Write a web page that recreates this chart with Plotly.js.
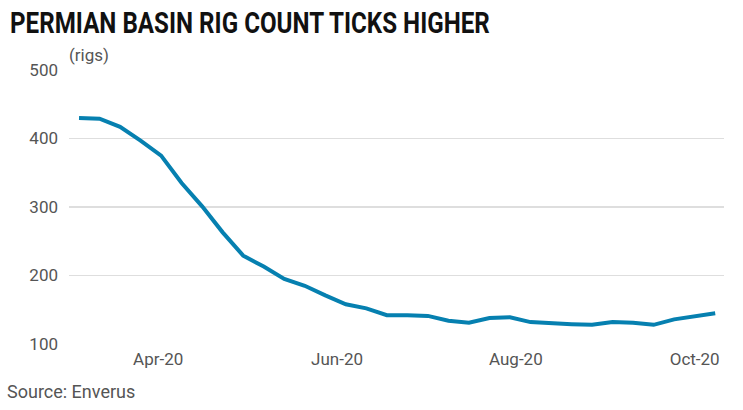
<!DOCTYPE html>
<html>
<head>
<meta charset="utf-8">
<script src="https://cdn.plot.ly/plotly-3.0.1.min.js"></script>
<style>
html,body{margin:0;padding:0;background:#fff;}
#chart{width:743px;height:410px;}
</style>
</head>
<body>
<div id="chart"></div>
<script>
const dates = [
  "2020-03-05","2020-03-12","2020-03-19","2020-03-26","2020-04-02","2020-04-09","2020-04-16","2020-04-23",
  "2020-04-30","2020-05-07","2020-05-14","2020-05-21","2020-05-28","2020-06-04","2020-06-11","2020-06-18",
  "2020-06-25","2020-07-02","2020-07-09","2020-07-16","2020-07-23","2020-07-30","2020-08-06","2020-08-13",
  "2020-08-20","2020-08-27","2020-09-03","2020-09-10","2020-09-17","2020-09-24","2020-10-01","2020-10-08"
];
const rigs = [
  430, 429, 417, 397, 375, 335, 301, 263,
  229, 213, 195, 185, 171, 158, 152, 142,
  142, 141, 134, 131, 138, 139, 132, 130,
  129, 128, 132, 131, 128, 136, 141, 145
];
const tickDates = ["2020-04-01","2020-06-01","2020-08-01","2020-10-01"];
const tickLabels = ["Apr-20","Jun-20","Aug-20","Oct-20"];
const yTicks = [100, 200, 300, 400, 500];

const tickFont = {family: "Roboto, 'Noto Sans', sans-serif", size: 17, color: "#555555"};

Plotly.newPlot("chart", [{
  x: dates, y: rigs, type: "scatter", mode: "lines",
  line: {color: "#0680b0", width: 4},
  hoverinfo: "skip"
}], {
  width: 743, height: 410,
  margin: {l: 69, r: 19, t: 70, b: 66, pad: 0},
  paper_bgcolor: "#ffffff", plot_bgcolor: "#ffffff",
  showlegend: false,
  title: {
    text: "PERMIAN BASIN RIG COUNT TICKS HIGHER",
    font: {family: "Roboto, sans-serif", size: 29, color: "#111111", weight: 700},
    x: 0.0135, xanchor: "left", xref: "container", y: 0.945, yanchor: "middle", yref: "container"
  },
  xaxis: {
    type: "date",
    range: ["2020-03-01 14:00", "2020-10-11 00:00"],
    tickmode: "array", tickvals: tickDates, ticktext: tickLabels,
    showgrid: false, zeroline: false, showline: false,
    ticks: "", tickfont: tickFont, ticklabelstandoff: 3
  },
  yaxis: {
    range: [100, 500],
    tickmode: "array", tickvals: yTicks,
    showgrid: true, gridcolor: "#dedede", gridwidth: 1.5,
    zeroline: false, showline: false,
    ticks: "", tickfont: tickFont, ticklabelstandoff: 10
  },
  annotations: [
    {text: "(rigs)", xref: "paper", yref: "paper", x: 0, y: 1, xanchor: "left", yanchor: "bottom",
     yshift: 3, xshift: -2, showarrow: false, font: {family: "Roboto, sans-serif", size: 17, color: "#555555"}},
    {text: "Source: Enverus", xref: "paper", yref: "paper", x: -0.098, y: 0, xanchor: "left", yanchor: "top",
     yshift: -35, showarrow: false, font: {family: "Roboto, sans-serif", size: 18, color: "#555555"}}
  ]
}, {displayModeBar: false, staticPlot: true}).then(function (gd) {
  // narrow the bold title to the condensed width of the original headline
  const el = gd.querySelector(".gtitle");
  if (el) {
    const bb = el.getBBox();
    const s = 480 / bb.width;
    el.setAttribute("transform", "translate(" + bb.x + ",0) scale(" + s + ",1) translate(" + (-bb.x) + ",0)");
  }
});
</script>
</body>
</html>
